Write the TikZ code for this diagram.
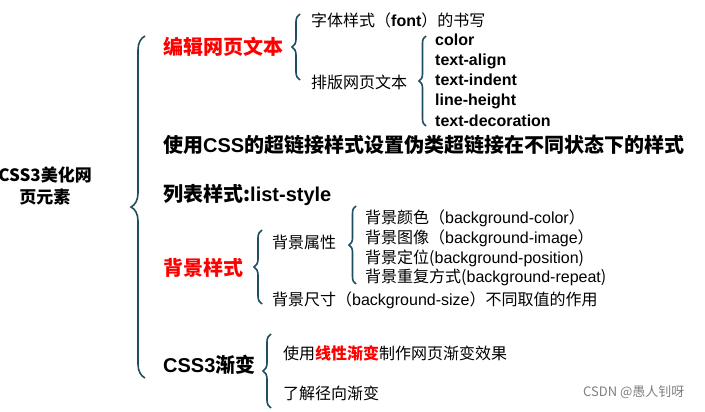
\documentclass[tikz,border=0pt]{standalone}
\usepackage{fontspec}
\setmainfont{Noto Sans CJK SC}
\newfontfamily\lat{Liberation Sans}
\usetikzlibrary{decorations.pathreplacing}
\definecolor{br}{HTML}{1F4E5F}
\tikzset{
 bigt/.style={anchor=west,inner sep=0pt,font=\fontsize{20}{22}\selectfont\bfseries},
 redt/.style={bigt,text=red},
 subt/.style={anchor=west,inner sep=0pt,font=\fontsize{16}{18}\selectfont},
 lst/.style={anchor=base west,inner sep=0pt,font=\fontsize{16}{18}\selectfont\lat\bfseries},
 brc/.style={draw=br,line width=1.6pt,decorate,decoration={brace,amplitude=#1}},
}
\begin{document}
\begin{tikzpicture}[x=1pt,y=-1pt]
\useasboundingbox[fill=white] (0,0) rectangle (705,412);
\node[align=center,inner sep=0pt,font=\fontsize{17}{22}\selectfont\bfseries] (root) at (45,186) {CSS3美化网\\页元素};
\draw[brc=14pt] (145,378) -- (145,36);
\node[redt] (n1) at (163,47) {编辑网页文本};
\draw[brc=8pt] (300,80) -- (300,14);
\node[subt] (n11) at (311,20) {字体样式（{\lat\bfseries font}）的书写};
\node[subt] (n12) at (311,82) {排版网页文本};
\draw[brc=7pt] (426,126) -- (426,36);
\foreach \t [count=\i] in {color,text-align,text-indent,line-height,text-decoration}
  \node[lst] (c\i) at (435,26+20*\i) {\t};
\node[bigt] (n2) at (163,145) {使用{\lat CSS}的超链接样式设置伪类超链接在不同状态下的样式};
\node[bigt] (n3) at (163,195) {列表样式:{\lat list-style}};
\node[redt] (n4) at (163,268) {背景样式};
\draw[brc=8pt] (262,304) -- (262,230);
\node[subt] (n41) at (272,242) {背景属性};
\draw[brc=7pt] (356,284) -- (356,206);
\node[subt] (b1) at (365,218) {背景颜色（{\lat background-color}）};
\node[subt] (b2) at (365,238) {背景图像（{\lat background-image}）};
\node[subt] (b3) at (365,258) {背景定位({\lat background-position})};
\node[subt] (b4) at (365,277) {背景重复方式({\lat background-repeat})};
\node[subt] (n42) at (272,300) {背景尺寸（{\lat background-size}）不同取值的作用};
\node[bigt] (n5) at (163,365) {{\lat CSS3}渐变};
\draw[brc=8pt] (271,408) -- (271,334);
\node[subt] (n51) at (283,353) {使用{\color{red}\bfseries 线性渐变}制作网页渐变效果};
\node[subt] (n52) at (283,393) {了解径向渐变};
\node[anchor=west,inner sep=0pt,text=gray,font=\fontsize{13}{14}\selectfont] (wm) at (583,392) {CSDN @愚人钊呀};
\end{tikzpicture}
\end{document}
